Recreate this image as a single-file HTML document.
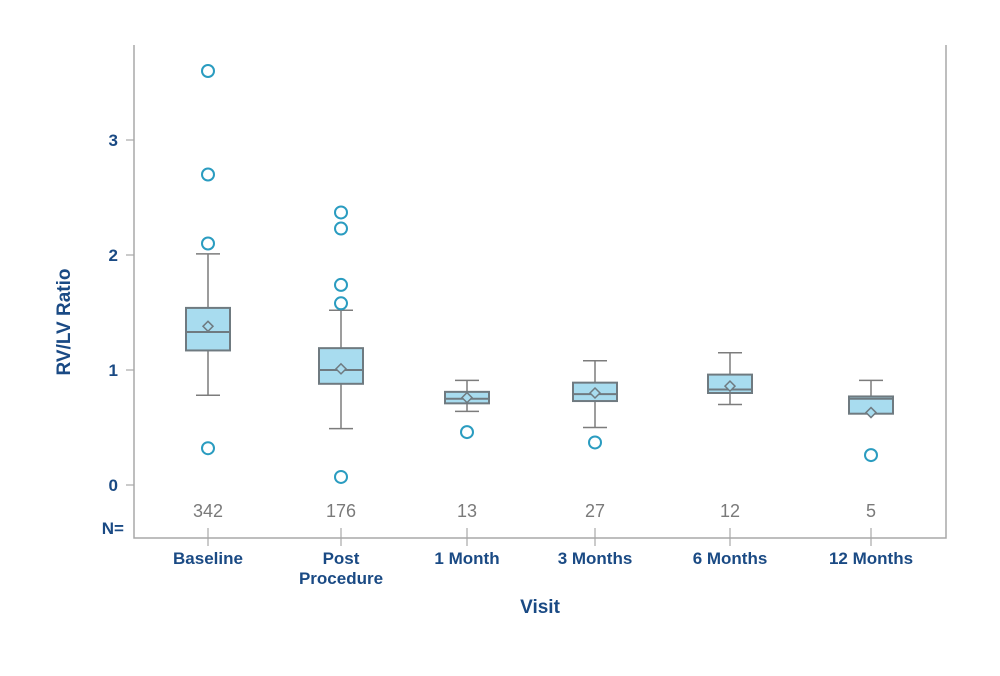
<!DOCTYPE html>
<html><head><meta charset="utf-8"><style>
body{margin:0;background:#fff;}
svg text{font-family:"Liberation Sans",sans-serif;}
</style></head><body>
<svg id="chart" width="1000" height="671" viewBox="0 0 1000 671" xmlns="http://www.w3.org/2000/svg">
<g id="frame"></g><g id="marks"></g>
</svg>
<script>
const categories=["Baseline","Post Procedure","1 Month","3 Months","6 Months","12 Months"];
const nValues=["342","176","13","27","12","5"];
const q1=[1.17,0.88,0.71,0.73,0.80,0.62];
const medians=[1.33,1.00,0.75,0.79,0.83,0.75];
const q3=[1.54,1.19,0.81,0.89,0.96,0.77];
const means=[1.38,1.01,0.76,0.80,0.86,0.63];
const whiskLow=[0.78,0.49,0.64,0.50,0.70,0.62];
const whiskHigh=[2.01,1.52,0.91,1.08,1.15,0.91];
const outliers=[[3.6,2.7,2.1,0.32],[2.37,2.23,1.74,1.58,0.07],[0.46],[0.37],[],[0.26]];
const yTicks=[0,1,2,3];

const NS="http://www.w3.org/2000/svg";
const svg=document.getElementById('chart');
const frame=document.getElementById('frame');
const marks=document.getElementById('marks');
const L=134,R=946,T=45,B=538;
const centers=[208,341,467,595,730,871];
function y(v){return 485-115*v;}
function x(i){return centers[i];}
function mk(parent,tag,attrs,text){const e=document.createElementNS(NS,tag);for(const k in attrs)e.setAttribute(k,attrs[k]);if(text!==undefined)e.textContent=text;parent.appendChild(e);return e;}
const axc="#a8a8a8";
let e;
e=mk(frame,'path',{d:`M${L},${T}V${B}H${R}V${T}`,fill:'none',stroke:axc,'stroke-width':1.5});


yTicks.forEach(t=>{
  e=mk(frame,'line',{x1:L-8,x2:L,y1:y(t),y2:y(t),stroke:axc,'stroke-width':1.2});
  
  
  e=mk(frame,'text',{x:L-16,y:y(t)+6,'text-anchor':'end','font-size':17,'font-weight':'bold',fill:'#1a4a84'},String(t));
  
  
});
e=mk(frame,'text',{x:0,y:0,transform:'translate(70,322) rotate(-90)','text-anchor':'middle','font-size':19,'font-weight':'bold',fill:'#1a4a84'},'RV/LV Ratio');


e=mk(frame,'text',{x:(L+R)/2,y:613,'text-anchor':'middle','font-size':19,'font-weight':'bold',fill:'#1a4a84'},'Visit');


e=mk(frame,'text',{x:124,y:534,'text-anchor':'end','font-size':17,'font-weight':'bold',fill:'#1a4a84'},'N=');


const boxW=44,capW=24;
categories.forEach((c,i)=>{
  const cx=x(i);
  e=mk(frame,'line',{x1:cx,x2:cx,y1:B-10,y2:B+8,stroke:axc,'stroke-width':1.2});
  
  
  const parts=c==="Post Procedure"?["Post","Procedure"]:[c];
  parts.forEach((p,j)=>{
    e=mk(frame,'text',{x:cx,y:564+j*20,'text-anchor':'middle','font-size':17,'font-weight':'bold',fill:'#1a4a84'},p);
    
    
  });
  e=mk(frame,'text',{x:cx,y:517,'text-anchor':'middle','font-size':18,fill:'#7a7a7a'},nValues[i]);
  
  
  const g=mk(marks,'g',{});
  
  
  const sc="#7c7c7c";
  e=mk(g,'line',{x1:cx,x2:cx,y1:y(whiskLow[i]),y2:y(whiskHigh[i]),stroke:sc,'stroke-width':1.5});
  
  
  [whiskLow[i],whiskHigh[i]].forEach(v=>{
    e=mk(g,'line',{x1:cx-capW/2,x2:cx+capW/2,y1:y(v),y2:y(v),stroke:sc,'stroke-width':1.5});
    
    
  });
  e=mk(g,'rect',{x:cx-boxW/2,y:y(q3[i]),width:boxW,height:y(q1[i])-y(q3[i]),fill:'#a8dcef',stroke:'#6f7a80','stroke-width':2});
  
  
  e=mk(g,'line',{x1:cx-boxW/2,x2:cx+boxW/2,y1:y(medians[i]),y2:y(medians[i]),stroke:'#6f7a80','stroke-width':2});
  
  
  const my=y(means[i]);
  e=mk(g,'path',{d:`M${cx},${my-5}L${cx+5},${my}L${cx},${my+5}L${cx-5},${my}Z`,fill:'#a8dcef',stroke:'#6f7a80','stroke-width':1.5});
  
  
  outliers[i].forEach(v=>{
    e=mk(g,'circle',{cx:cx,cy:y(v),r:6,fill:'none',stroke:'#2a9cc0','stroke-width':2});
    
    
  });
});
</script>
</body></html>
